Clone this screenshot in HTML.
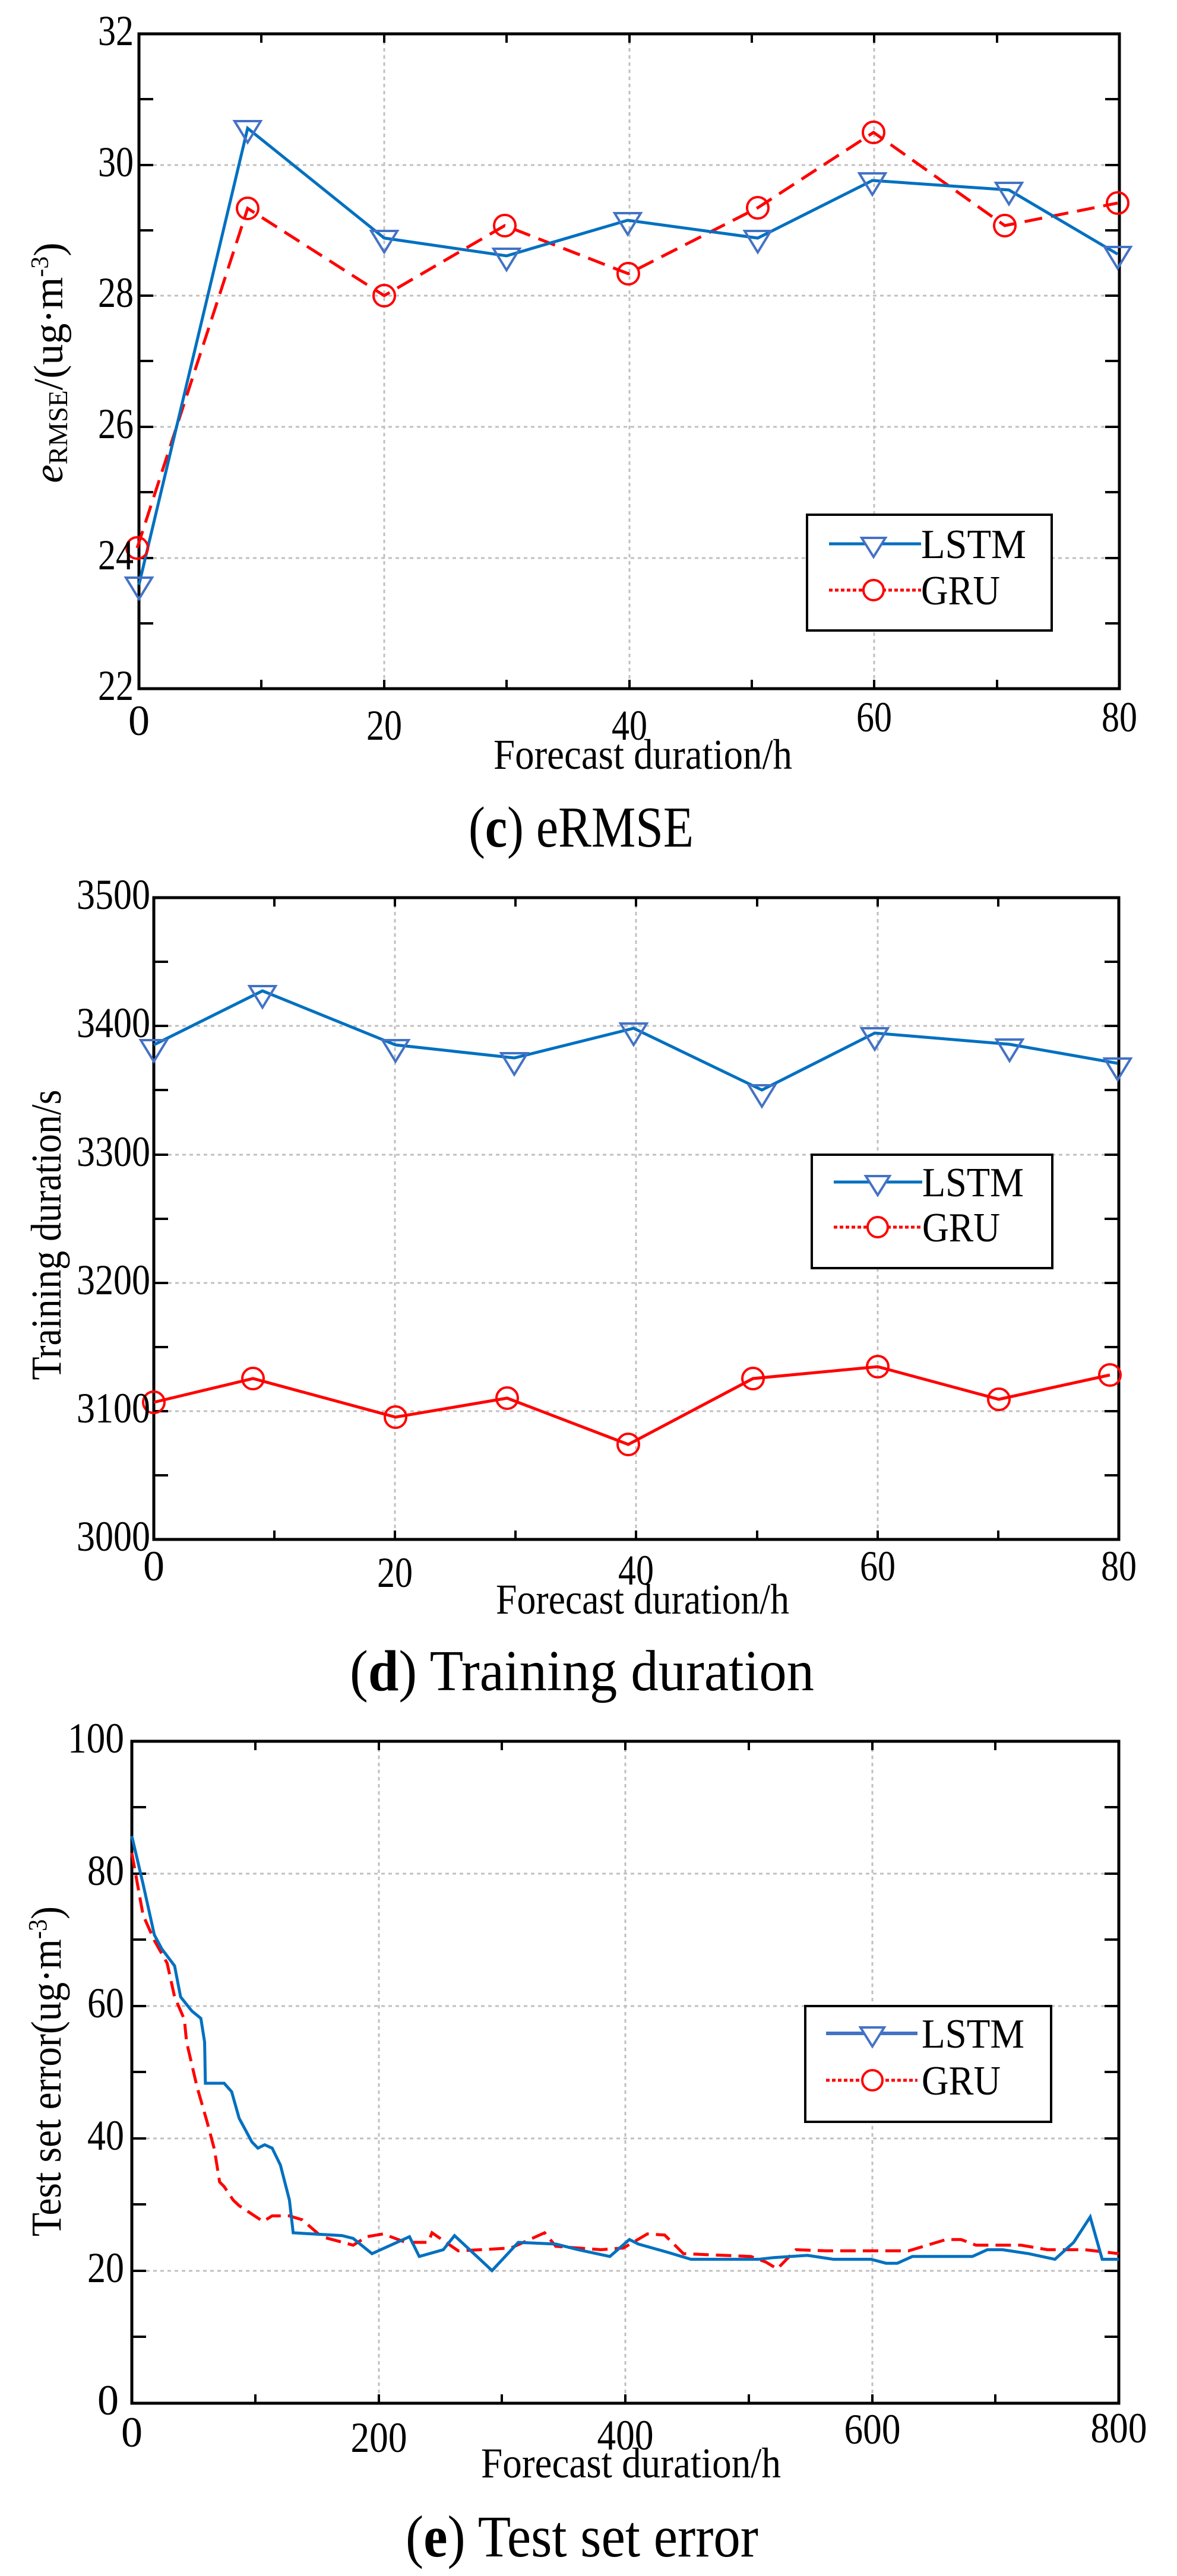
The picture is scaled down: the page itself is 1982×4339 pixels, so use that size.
<!DOCTYPE html>
<html><head><meta charset="utf-8"><style>
html,body{margin:0;padding:0;background:#fff;}
svg{display:block;}
text{font-family:"Liberation Serif",serif;fill:#000;}
</style></head><body>
<svg width="1982" height="4339" viewBox="0 0 1982 4339" xmlns="http://www.w3.org/2000/svg">
<rect width="1982" height="4339" fill="#fff"/>

<!-- ================= (c) ================= -->
<g stroke="#c0c0c0" stroke-width="3" stroke-dasharray="6 6">
<line x1="234" y1="278" x2="1885" y2="278"/><line x1="234" y1="498" x2="1885" y2="498"/>
<line x1="234" y1="719" x2="1885" y2="719"/><line x1="234" y1="940" x2="1885" y2="940"/>
<line x1="647" y1="57" x2="647" y2="1160"/><line x1="1060" y1="57" x2="1060" y2="1160"/><line x1="1472" y1="57" x2="1472" y2="1160"/>
</g>
<g stroke="#000" stroke-width="4">
<line x1="234" y1="167" x2="258" y2="167"/><line x1="234" y1="278" x2="258" y2="278"/><line x1="234" y1="388" x2="258" y2="388"/><line x1="234" y1="498" x2="258" y2="498"/><line x1="234" y1="608" x2="258" y2="608"/><line x1="234" y1="719" x2="258" y2="719"/><line x1="234" y1="829" x2="258" y2="829"/><line x1="234" y1="940" x2="258" y2="940"/><line x1="234" y1="1050" x2="258" y2="1050"/>
<line x1="1885" y1="167" x2="1861" y2="167"/><line x1="1885" y1="278" x2="1861" y2="278"/><line x1="1885" y1="388" x2="1861" y2="388"/><line x1="1885" y1="498" x2="1861" y2="498"/><line x1="1885" y1="608" x2="1861" y2="608"/><line x1="1885" y1="719" x2="1861" y2="719"/><line x1="1885" y1="829" x2="1861" y2="829"/><line x1="1885" y1="940" x2="1861" y2="940"/><line x1="1885" y1="1050" x2="1861" y2="1050"/>
<line x1="440" y1="57" x2="440" y2="72"/><line x1="647" y1="57" x2="647" y2="72"/><line x1="853" y1="57" x2="853" y2="72"/><line x1="1060" y1="57" x2="1060" y2="72"/><line x1="1266" y1="57" x2="1266" y2="72"/><line x1="1472" y1="57" x2="1472" y2="72"/><line x1="1679" y1="57" x2="1679" y2="72"/>
<line x1="440" y1="1160" x2="440" y2="1145"/><line x1="647" y1="1160" x2="647" y2="1145"/><line x1="853" y1="1160" x2="853" y2="1145"/><line x1="1060" y1="1160" x2="1060" y2="1145"/><line x1="1266" y1="1160" x2="1266" y2="1145"/><line x1="1472" y1="1160" x2="1472" y2="1145"/><line x1="1679" y1="1160" x2="1679" y2="1145"/>
</g>
<rect x="234" y="57" width="1651" height="1103" fill="none" stroke="#000" stroke-width="5"/>
<polyline fill="none" stroke="#ff0000" stroke-width="5" stroke-dasharray="30 15" points="231,923 417,351 647,498 850,380 1058,461 1276,350 1471,223 1692,380 1882,342"/>
<polyline fill="none" stroke="#0070c0" stroke-width="5" points="234,985 417,216 647,401 853,431 1057,371 1276,401 1469,304 1699,320 1882,428"/>
<g fill="none" stroke="#4472c4" stroke-width="4">
<path d="M212,973 L256,973 L234,1009 Z"/><path d="M395,204 L439,204 L417,240 Z"/><path d="M625,389 L669,389 L647,425 Z"/><path d="M831,419 L875,419 L853,455 Z"/><path d="M1035,359 L1079,359 L1057,395 Z"/><path d="M1254,389 L1298,389 L1276,425 Z"/><path d="M1447,292 L1491,292 L1469,328 Z"/><path d="M1677,308 L1721,308 L1699,344 Z"/><path d="M1860,416 L1904,416 L1882,452 Z"/>
</g>
<g fill="none" stroke="#ff0000" stroke-width="4">
<circle cx="231" cy="923" r="18"/><circle cx="417" cy="351" r="18"/><circle cx="647" cy="498" r="18"/><circle cx="850" cy="380" r="18"/><circle cx="1058" cy="461" r="18"/><circle cx="1276" cy="350" r="18"/><circle cx="1471" cy="223" r="18"/><circle cx="1692" cy="380" r="18"/><circle cx="1882" cy="342" r="18"/>
</g>
<g font-size="72" text-anchor="end">
<text x="225" y="76" textLength="60" lengthAdjust="spacingAndGlyphs">32</text><text x="225" y="297" textLength="60" lengthAdjust="spacingAndGlyphs">30</text><text x="225" y="517" textLength="60" lengthAdjust="spacingAndGlyphs">28</text><text x="225" y="738" textLength="60" lengthAdjust="spacingAndGlyphs">26</text><text x="225" y="959" textLength="60" lengthAdjust="spacingAndGlyphs">24</text><text x="225" y="1179" textLength="60" lengthAdjust="spacingAndGlyphs">22</text>
</g>
<g font-size="72" text-anchor="middle">
<text x="234" y="1238">0</text><text x="647" y="1246" textLength="60" lengthAdjust="spacingAndGlyphs">20</text><text x="1060" y="1246" textLength="60" lengthAdjust="spacingAndGlyphs">40</text><text x="1472" y="1232" textLength="60" lengthAdjust="spacingAndGlyphs">60</text><text x="1885" y="1232" textLength="60" lengthAdjust="spacingAndGlyphs">80</text>
</g>
<text x="831" y="1295" font-size="72" textLength="503" lengthAdjust="spacingAndGlyphs">Forecast duration/h</text>
<text transform="translate(105,611) rotate(-90)" font-size="70" text-anchor="middle"><tspan font-style="italic">e</tspan><tspan font-size="46" dy="8">RMSE</tspan><tspan dy="-8">/(ug·m</tspan><tspan font-size="42" dy="-24">-3</tspan><tspan dy="24">)</tspan></text>
<rect x="1359" y="867" width="412" height="195" fill="#fff" stroke="#000" stroke-width="4"/>
<line x1="1396" y1="916" x2="1551" y2="916" stroke="#0070c0" stroke-width="5"/>
<path d="M1451,906 L1491,906 L1471,938 Z" fill="#fff" stroke="#4472c4" stroke-width="4"/>
<line x1="1396" y1="994" x2="1551" y2="994" stroke="#ff0000" stroke-width="5" stroke-dasharray="6 4"/>
<circle cx="1471" cy="994" r="17" fill="#fff" stroke="#ff0000" stroke-width="4"/>
<text x="1551" y="940" font-size="70" textLength="177" lengthAdjust="spacingAndGlyphs">LSTM</text>
<text x="1551" y="1018" font-size="70" textLength="133" lengthAdjust="spacingAndGlyphs">GRU</text>
<text x="789" y="1426" font-size="98" textLength="379" lengthAdjust="spacingAndGlyphs">(<tspan font-weight="bold">c</tspan>) eRMSE</text>

<!-- ================= (d) ================= -->
<g stroke="#c0c0c0" stroke-width="3" stroke-dasharray="6 6">
<line x1="259" y1="1728" x2="1884" y2="1728"/><line x1="259" y1="1945" x2="1884" y2="1945"/><line x1="259" y1="2161" x2="1884" y2="2161"/><line x1="259" y1="2377" x2="1884" y2="2377"/>
<line x1="665" y1="1512" x2="665" y2="2593"/><line x1="1071" y1="1512" x2="1071" y2="2593"/><line x1="1478" y1="1512" x2="1478" y2="2593"/>
</g>
<g stroke="#000" stroke-width="4">
<line x1="259" y1="1620" x2="283" y2="1620"/><line x1="259" y1="1728" x2="283" y2="1728"/><line x1="259" y1="1836" x2="283" y2="1836"/><line x1="259" y1="1945" x2="283" y2="1945"/><line x1="259" y1="2053" x2="283" y2="2053"/><line x1="259" y1="2161" x2="283" y2="2161"/><line x1="259" y1="2269" x2="283" y2="2269"/><line x1="259" y1="2377" x2="283" y2="2377"/><line x1="259" y1="2485" x2="283" y2="2485"/>
<line x1="1884" y1="1620" x2="1860" y2="1620"/><line x1="1884" y1="1728" x2="1860" y2="1728"/><line x1="1884" y1="1836" x2="1860" y2="1836"/><line x1="1884" y1="1945" x2="1860" y2="1945"/><line x1="1884" y1="2053" x2="1860" y2="2053"/><line x1="1884" y1="2161" x2="1860" y2="2161"/><line x1="1884" y1="2269" x2="1860" y2="2269"/><line x1="1884" y1="2377" x2="1860" y2="2377"/><line x1="1884" y1="2485" x2="1860" y2="2485"/>
<line x1="462" y1="1512" x2="462" y2="1527"/><line x1="665" y1="1512" x2="665" y2="1527"/><line x1="868" y1="1512" x2="868" y2="1527"/><line x1="1071" y1="1512" x2="1071" y2="1527"/><line x1="1275" y1="1512" x2="1275" y2="1527"/><line x1="1478" y1="1512" x2="1478" y2="1527"/><line x1="1681" y1="1512" x2="1681" y2="1527"/>
<line x1="462" y1="2593" x2="462" y2="2578"/><line x1="665" y1="2593" x2="665" y2="2578"/><line x1="868" y1="2593" x2="868" y2="2578"/><line x1="1071" y1="2593" x2="1071" y2="2578"/><line x1="1275" y1="2593" x2="1275" y2="2578"/><line x1="1478" y1="2593" x2="1478" y2="2578"/><line x1="1681" y1="2593" x2="1681" y2="2578"/>
</g>
<rect x="259" y="1512" width="1625" height="1081" fill="none" stroke="#000" stroke-width="5"/>
<polyline fill="none" stroke="#0070c0" stroke-width="5" points="259,1760 442,1669 666,1760 866,1782 1067,1732 1283,1836 1473,1740 1700,1759 1882,1791"/>
<polyline fill="none" stroke="#ff0000" stroke-width="5" points="259,2362 426,2322 666,2387 854,2355 1058,2433 1268,2322 1478,2302 1682,2357 1869,2316"/>
<g fill="none" stroke="#4472c4" stroke-width="4">
<path d="M237,1752 L281,1752 L259,1788 Z"/><path d="M420,1661 L464,1661 L442,1697 Z"/><path d="M644,1752 L688,1752 L666,1788 Z"/><path d="M844,1774 L888,1774 L866,1810 Z"/><path d="M1045,1724 L1089,1724 L1067,1760 Z"/><path d="M1261,1828 L1305,1828 L1283,1864 Z"/><path d="M1451,1732 L1495,1732 L1473,1768 Z"/><path d="M1678,1751 L1722,1751 L1700,1787 Z"/><path d="M1860,1783 L1904,1783 L1882,1819 Z"/>
</g>
<g fill="none" stroke="#ff0000" stroke-width="4">
<circle cx="259" cy="2362" r="18"/><circle cx="426" cy="2322" r="18"/><circle cx="666" cy="2387" r="18"/><circle cx="854" cy="2355" r="18"/><circle cx="1058" cy="2433" r="18"/><circle cx="1268" cy="2322" r="18"/><circle cx="1478" cy="2302" r="18"/><circle cx="1682" cy="2357" r="18"/><circle cx="1869" cy="2316" r="18"/>
</g>
<g font-size="72" text-anchor="end">
<text x="253" y="1531" textLength="124" lengthAdjust="spacingAndGlyphs">3500</text><text x="253" y="1747" textLength="124" lengthAdjust="spacingAndGlyphs">3400</text><text x="253" y="1964" textLength="124" lengthAdjust="spacingAndGlyphs">3300</text><text x="253" y="2180" textLength="124" lengthAdjust="spacingAndGlyphs">3200</text><text x="253" y="2396" textLength="124" lengthAdjust="spacingAndGlyphs">3100</text><text x="253" y="2612" textLength="124" lengthAdjust="spacingAndGlyphs">3000</text>
</g>
<g font-size="72" text-anchor="middle">
<text x="259" y="2662">0</text><text x="665" y="2673" textLength="60" lengthAdjust="spacingAndGlyphs">20</text><text x="1071" y="2669" textLength="60" lengthAdjust="spacingAndGlyphs">40</text><text x="1478" y="2662" textLength="60" lengthAdjust="spacingAndGlyphs">60</text><text x="1884" y="2662" textLength="60" lengthAdjust="spacingAndGlyphs">80</text>
</g>
<text x="835" y="2718" font-size="72" textLength="494" lengthAdjust="spacingAndGlyphs">Forecast duration/h</text>
<text transform="translate(102,2080) rotate(-90)" font-size="72" text-anchor="middle" textLength="489" lengthAdjust="spacingAndGlyphs">Training duration/s</text>
<rect x="1367" y="1945" width="405" height="191" fill="#fff" stroke="#000" stroke-width="4"/>
<line x1="1404" y1="1991" x2="1553" y2="1991" stroke="#0070c0" stroke-width="5"/>
<path d="M1458,1981 L1498,1981 L1478,2013 Z" fill="#fff" stroke="#4472c4" stroke-width="4"/>
<line x1="1404" y1="2067" x2="1553" y2="2067" stroke="#ff0000" stroke-width="5" stroke-dasharray="6 4"/>
<circle cx="1478" cy="2067" r="17" fill="#fff" stroke="#ff0000" stroke-width="4"/>
<text x="1553" y="2015" font-size="70" textLength="171" lengthAdjust="spacingAndGlyphs">LSTM</text>
<text x="1553" y="2091" font-size="70" textLength="131" lengthAdjust="spacingAndGlyphs">GRU</text>
<text x="589" y="2847" font-size="98" textLength="782" lengthAdjust="spacingAndGlyphs">(<tspan font-weight="bold">d</tspan>) Training duration</text>

<!-- ================= (e) ================= -->
<g stroke="#c0c0c0" stroke-width="3" stroke-dasharray="6 6">
<line x1="222" y1="3156" x2="1884" y2="3156"/><line x1="222" y1="3379" x2="1884" y2="3379"/><line x1="222" y1="3602" x2="1884" y2="3602"/><line x1="222" y1="3825" x2="1884" y2="3825"/>
<line x1="638" y1="2933" x2="638" y2="4048"/><line x1="1053" y1="2933" x2="1053" y2="4048"/><line x1="1469" y1="2933" x2="1469" y2="4048"/>
</g>
<g stroke="#000" stroke-width="4">
<line x1="222" y1="3044" x2="246" y2="3044"/><line x1="222" y1="3156" x2="246" y2="3156"/><line x1="222" y1="3267" x2="246" y2="3267"/><line x1="222" y1="3379" x2="246" y2="3379"/><line x1="222" y1="3490" x2="246" y2="3490"/><line x1="222" y1="3602" x2="246" y2="3602"/><line x1="222" y1="3713" x2="246" y2="3713"/><line x1="222" y1="3825" x2="246" y2="3825"/><line x1="222" y1="3936" x2="246" y2="3936"/>
<line x1="1884" y1="3044" x2="1860" y2="3044"/><line x1="1884" y1="3156" x2="1860" y2="3156"/><line x1="1884" y1="3267" x2="1860" y2="3267"/><line x1="1884" y1="3379" x2="1860" y2="3379"/><line x1="1884" y1="3490" x2="1860" y2="3490"/><line x1="1884" y1="3602" x2="1860" y2="3602"/><line x1="1884" y1="3713" x2="1860" y2="3713"/><line x1="1884" y1="3825" x2="1860" y2="3825"/><line x1="1884" y1="3936" x2="1860" y2="3936"/>
<line x1="430" y1="2933" x2="430" y2="2948"/><line x1="638" y1="2933" x2="638" y2="2948"/><line x1="845" y1="2933" x2="845" y2="2948"/><line x1="1053" y1="2933" x2="1053" y2="2948"/><line x1="1261" y1="2933" x2="1261" y2="2948"/><line x1="1469" y1="2933" x2="1469" y2="2948"/><line x1="1676" y1="2933" x2="1676" y2="2948"/>
<line x1="430" y1="4048" x2="430" y2="4033"/><line x1="638" y1="4048" x2="638" y2="4033"/><line x1="845" y1="4048" x2="845" y2="4033"/><line x1="1053" y1="4048" x2="1053" y2="4033"/><line x1="1261" y1="4048" x2="1261" y2="4033"/><line x1="1469" y1="4048" x2="1469" y2="4033"/><line x1="1676" y1="4048" x2="1676" y2="4033"/>
</g>
<rect x="222" y="2933" width="1662" height="1115" fill="none" stroke="#000" stroke-width="5"/>
<g transform="translate(0.8,2850.3) scale(1.2638,0.9505)">
<polyline fill="none" stroke="#ff0000" stroke-width="5" vector-effect="non-scaling-stroke" stroke-dasharray="26 12" points="175,285 190,395 205,440 222,480 232,540 245,580 248,620 262,700 275,760 285,810 292,868 298,876 310,900 318,910 350,938 362,928 385,928 402,935 428,965 470,980 488,965 510,960 540,975 570,975 575,958 610,990 640,988 680,985 725,958 740,982 800,988 830,985 862,960 885,962 910,995 1000,1000 1020,1010 1035,1022 1060,988 1100,990 1210,990 1260,970 1280,970 1300,980 1360,980 1395,988 1445,988 1490,995"/>
<polyline fill="none" stroke="#0070c0" stroke-width="5" vector-effect="non-scaling-stroke" points="175,255 190,340 205,430 215,455 232,485 240,540 255,565 267,578 272,620 273,693 298,693 308,708 318,755 335,797 343,808 352,802 362,808 373,838 385,900 390,958 455,963 470,968 495,995 545,965 558,1000 590,988 605,963 655,1025 690,975 740,978 770,988 812,1000 838,970 850,978 890,993 920,1005 1010,1005 1030,1002 1075,998 1110,1005 1160,1005 1180,1012 1195,1012 1215,1000 1295,1000 1315,988 1335,988 1370,995 1405,1005 1430,975 1452,930 1468,1005 1490,1005"/>
</g>
<g font-size="72" text-anchor="end">
<text x="209" y="2952" textLength="95" lengthAdjust="spacingAndGlyphs">100</text><text x="209" y="3175" textLength="62" lengthAdjust="spacingAndGlyphs">80</text><text x="209" y="3398" textLength="62" lengthAdjust="spacingAndGlyphs">60</text><text x="209" y="3621" textLength="62" lengthAdjust="spacingAndGlyphs">40</text><text x="209" y="3844" textLength="62" lengthAdjust="spacingAndGlyphs">20</text><text x="200" y="4067">0</text>
</g>
<g font-size="72" text-anchor="middle">
<text x="222" y="4121">0</text><text x="638" y="4130" textLength="95" lengthAdjust="spacingAndGlyphs">200</text><text x="1053" y="4126" textLength="95" lengthAdjust="spacingAndGlyphs">400</text><text x="1469" y="4116" textLength="95" lengthAdjust="spacingAndGlyphs">600</text><text x="1884" y="4114" textLength="95" lengthAdjust="spacingAndGlyphs">800</text>
</g>
<text x="810" y="4173" font-size="72" textLength="505" lengthAdjust="spacingAndGlyphs">Forecast duration/h</text>
<text transform="translate(102,3489) rotate(-90)" font-size="72" text-anchor="middle" textLength="556" lengthAdjust="spacingAndGlyphs">Test set error(ug·m<tspan font-size="44" dy="-24">-3</tspan><tspan dy="24">)</tspan></text>
<rect x="1356" y="3379" width="414" height="195" fill="#fff" stroke="#000" stroke-width="4"/>
<line x1="1391" y1="3425" x2="1545" y2="3425" stroke="#4472c4" stroke-width="6"/>
<path d="M1449,3415 L1489,3415 L1469,3447 Z" fill="#fff" stroke="#4472c4" stroke-width="4"/>
<line x1="1391" y1="3504" x2="1545" y2="3504" stroke="#ff0000" stroke-width="5" stroke-dasharray="6 4"/>
<circle cx="1469" cy="3504" r="17" fill="#fff" stroke="#ff0000" stroke-width="4"/>
<text x="1552" y="3449" font-size="70" textLength="173" lengthAdjust="spacingAndGlyphs">LSTM</text>
<text x="1552" y="3528" font-size="70" textLength="133" lengthAdjust="spacingAndGlyphs">GRU</text>
<text x="683" y="4306" font-size="100" textLength="594" lengthAdjust="spacingAndGlyphs">(<tspan font-weight="bold">e</tspan>) Test set error</text>
</svg>
</body></html>
